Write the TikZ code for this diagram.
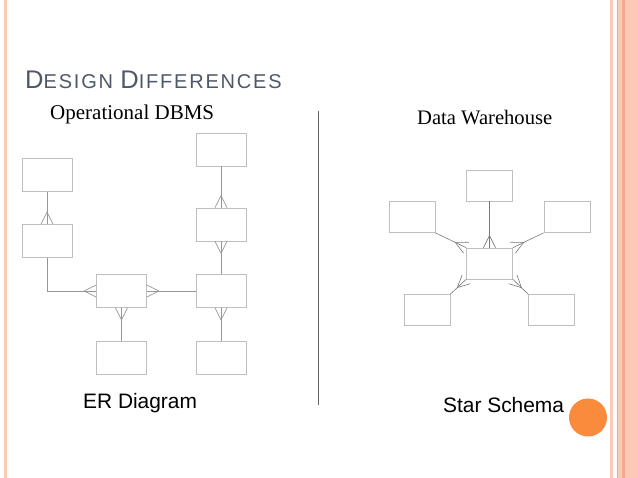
\documentclass[tikz,border=0pt]{standalone}
\usepackage{fontspec}
\setmainfont{Liberation Serif}
\newfontfamily\arialf{Liberation Sans}
\newfontfamily\arialsp[LetterSpace=9]{Liberation Sans}
\usetikzlibrary{calc}
\definecolor{boxgray}{RGB}{190,190,190}
\definecolor{linegray}{RGB}{150,150,150}
\definecolor{stargray}{RGB}{120,120,120}
\definecolor{titlecol}{RGB}{80,88,104}
\definecolor{salmon}{RGB}{251,201,182}
\definecolor{salmondark}{RGB}{244,172,145}
\definecolor{orangedot}{RGB}{250,138,60}
\definecolor{divider}{RGB}{100,100,100}
\newcommand\crowfoot[3][linegray]{%
  \draw[#1,line width=0.6pt] ($(#2)!12pt!(#3)$) -- ($(#2)!6pt!90:(#3)$)
    ($(#2)!12pt!(#3)$) -- ($(#2)!6pt!-90:(#3)$);}
\begin{document}
\begin{tikzpicture}[x=1pt,y=-1pt,
  erbox/.style={draw=boxgray,line width=0.7pt,minimum width=50pt,minimum height=33pt,inner sep=0pt},
  stbox/.style={draw=boxgray,line width=0.7pt,minimum width=46pt,minimum height=31pt,inner sep=0pt},
  conn/.style={draw=linegray,line width=0.6pt},
  sconn/.style={draw=stargray,line width=0.6pt},
  lbl/.style={inner sep=0pt,anchor=base west}]
\useasboundingbox (0,0) rectangle (638,478);
\fill[white] (0,0) rectangle (638,478);
% borders
\fill[salmon] (4,0) rectangle (7,478);
\fill[salmon] (610,0) rectangle (612.5,478);
\fill[salmon] (616.5,0) rectangle (638,478);
\fill[salmondark] (616.5,0) rectangle (618,478);
\fill[salmondark] (621.5,0) rectangle (625,478);
% title and headings
\node[lbl,text=titlecol] (title) at (25,89) {\arialsp\fontsize{25.5}{25.5}\selectfont D\fontsize{20}{20}\selectfont ESIGN \fontsize{25.5}{25.5}\selectfont D\fontsize{20}{20}\selectfont IFFERENCES};
\node[lbl] (op) at (50,120) {\fontsize{21}{21}\selectfont Operational DBMS};
\node[lbl] (dw) at (417,125) {\fontsize{20.6}{20.6}\selectfont Data Warehouse};
\node[lbl] (er) at (83,408.5) {\arialf\fontsize{20.9}{20.9}\selectfont ER Diagram};
\node[lbl] (ss) at (443,412.5) {\arialf\fontsize{20.9}{20.9}\selectfont Star Schema};
% divider
\coordinate (dtop) at (318.5,111.5);
\coordinate (dbot) at (318.5,405);
\draw[divider,line width=1.6pt] (dtop) -- (dbot);
% orange dot
\node[circle,fill=orangedot,minimum size=38pt,inner sep=0pt] (dot) at (588,417.5) {};
% ER boxes
\node[erbox] (A) at (47,175) {};
\node[erbox] (B) at (47,241) {};
\node[erbox] (C) at (121.5,291) {};
\node[erbox] (D) at (121.5,358) {};
\node[erbox] (E) at (221,149.5) {};
\node[erbox] (F) at (221,224.5) {};
\node[erbox] (G) at (221,291) {};
\node[erbox] (H) at (221,358) {};
\coordinate (bc) at (B.south |- C.west);
\draw[conn] (A.south) -- (B.north);
\crowfoot{B.north}{A.south}
\draw[conn] (B.south) |- (C.west);
\crowfoot{C.west}{bc}
\draw[conn] (C.east) -- (G.west);
\crowfoot{C.east}{G.west}
\draw[conn] (C.south) -- (D.north);
\crowfoot{C.south}{D.north}
\draw[conn] (E.south) -- (F.north);
\crowfoot{F.north}{E.south}
\draw[conn] (F.south) -- (G.north);
\crowfoot{F.south}{G.north}
\draw[conn] (G.south) -- (H.north);
\crowfoot{G.south}{H.north}
% star schema
\node[stbox] (T) at (489.5,185.5) {};
\node[stbox] (L) at (412,217) {};
\node[stbox] (R) at (567,217) {};
\node[stbox] (S) at (489.5,263.5) {};
\node[stbox] (BL) at (427,310) {};
\node[stbox] (BR) at (551.5,310) {};
\draw[sconn] (T.south) -- (S.north);
\crowfoot[stargray]{S.north}{T.south}
\draw[sconn] (L.south east) -- (S.north west);
\crowfoot[stargray]{S.north west}{L.south east}
\draw[sconn] (R.south west) -- (S.north east);
\crowfoot[stargray]{S.north east}{R.south west}
\draw[sconn] (BL.north east) -- (S.south west);
\crowfoot[stargray]{S.south west}{BL.north east}
\draw[sconn] (BR.north west) -- (S.south east);
\crowfoot[stargray]{S.south east}{BR.north west}
\end{tikzpicture}
\end{document}
